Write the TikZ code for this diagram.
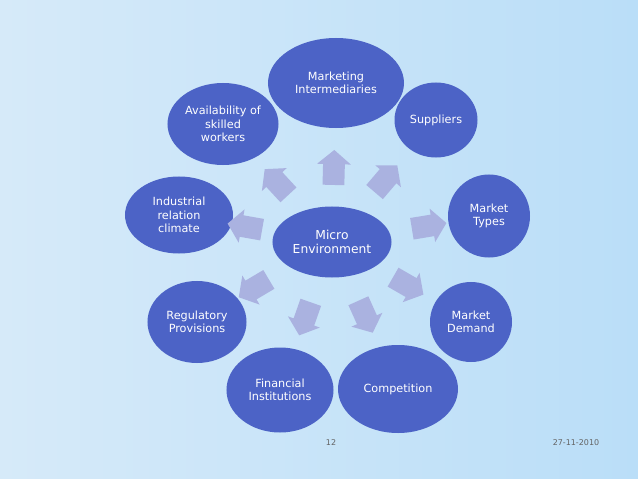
\documentclass[tikz,border=0pt]{standalone}
\usepackage{fontspec}
\setmainfont{DejaVu Sans}
\usepackage{xcolor}
\usetikzlibrary{shapes.geometric, shapes.arrows, calc}
\definecolor{ovalblue}{RGB}{76,99,198}
\definecolor{arrowblue}{RGB}{170,178,224}
\definecolor{bgleft}{RGB}{214,234,249}
\definecolor{bgright}{RGB}{186,222,248}
\definecolor{footgray}{RGB}{100,100,100}
\tikzstyle{oval}  = [ellipse, fill=ovalblue, draw=none, inner sep=0pt,
                     text=white, align=center,
                     font=\fontsize{9.6}{11.5}\selectfont]
\tikzstyle{hub}   = [oval, font=\fontsize{10.5}{12.3}\selectfont]
\tikzstyle{flowarrow} = [single arrow, fill=arrowblue, draw=none,
                     inner xsep=0pt, inner ysep=0.32cm, minimum height=1.05cm,
                     single arrow head extend=0.18cm, single arrow tip angle=100]
\tikzstyle{foot}  = [text=footgray, font=\fontsize{6.8}{8}\selectfont]

\begin{document}
\begin{tikzpicture}[x=0.03cm, y=-0.03cm]

  % slide background
  \useasboundingbox (0,0) rectangle (638,479);
  \shade[left color=bgleft, middle color=white, right color=bgright]
    (0,0) rectangle (638,479);

  \node[hub, minimum width=3.57cm, minimum height=2.13cm] (micro) at (332,242)
    {Micro\\Environment};

  \node[oval, minimum width=4.08cm, minimum height=2.7cm] (mkt) at (336,83)
    {Marketing\\Intermediaries};
  \node[oval, minimum width=3.33cm, minimum height=2.46cm] (avl) at (223,124)
    {Availability of\\skilled\\workers};
  \node[oval, minimum width=2.49cm, minimum height=2.25cm] (sup) at (436,120)
    {Suppliers};
  \node[oval, minimum width=3.24cm, minimum height=2.31cm] (ind) at (179,215)
    {Industrial\\relation\\climate};
  \node[oval, minimum width=2.46cm, minimum height=2.49cm] (typ) at (489,216)
    {Market\\Types};
  \node[oval, minimum width=2.97cm, minimum height=2.46cm] (reg) at (197,322)
    {Regulatory\\Provisions};
  \node[oval, minimum width=2.46cm, minimum height=2.4cm] (dem) at (471,322)
    {Market\\Demand};
  \node[oval, minimum width=3.21cm, minimum height=2.55cm] (fin) at (280,390)
    {Financial\\Institutions};
  \node[oval, minimum width=3.6cm, minimum height=2.64cm] (com) at (398,389)
    {Competition};

  % block arrows from the hub
  \foreach \target/\pos in {mkt/0.44, avl/0.48, sup/0.49, ind/0.54, typ/0.59,
                            dem/0.52, com/0.48, fin/0.49, reg/0.55}
    \path let \p1 = ($(\target)-(micro)$), \n1 = {atan2(\y1,\x1)} in
      node[flowarrow, rotate=\n1] (to-\target) at ($(micro)!\pos!(\target)$) {};

  \node[foot] (page) at (331,443) {12};
  \node[foot] (date) at (576,443) {27-11-2010};
\end{tikzpicture}
\end{document}
